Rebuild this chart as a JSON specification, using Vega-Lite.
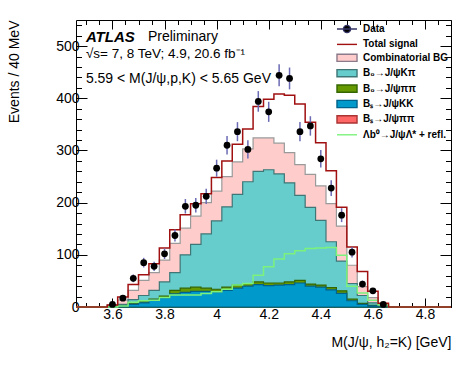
{
  "$schema": "https://vega.github.io/schema/vega-lite/v6.json",
  "width": 375,
  "height": 287,
  "autosize": {"type": "none"},
  "padding": {"left": 76, "top": 20, "right": 23, "bottom": 59},
  "background": "white",
  "config": {
    "font": "Liberation Sans",
    "view": {"stroke": "black", "strokeWidth": 1},
    "axis": {"grid": false, "domain": false, "tickColor": "black", "labelColor": "black", "titleColor": "black", "tickWidth": 1}
  },
  "datasets": {
    "hist": [
      {"x": 3.46, "tot": 0, "comb": 0, "kpi": 0, "pipi": 0, "kk": 0, "lb": 0},
      {"x": 3.50, "tot": 0, "comb": 0, "kpi": 0, "pipi": 0, "kk": 0, "lb": 0},
      {"x": 3.54, "tot": 0, "comb": 0, "kpi": 0, "pipi": 0, "kk": 0, "lb": 0},
      {"x": 3.58, "tot": 4, "comb": 4, "kpi": 2, "pipi": 0, "kk": 0, "lb": 0},
      {"x": 3.62, "tot": 19, "comb": 13, "kpi": 5, "pipi": 2.5, "kk": 2, "lb": 2},
      {"x": 3.66, "tot": 43, "comb": 32, "kpi": 14, "pipi": 6, "kk": 5, "lb": 9},
      {"x": 3.70, "tot": 62, "comb": 51, "kpi": 22, "pipi": 10, "kk": 8, "lb": 12},
      {"x": 3.74, "tot": 83, "comb": 66, "kpi": 32, "pipi": 15, "kk": 13, "lb": 13},
      {"x": 3.78, "tot": 113, "comb": 90, "kpi": 48, "pipi": 21, "kk": 18, "lb": 18},
      {"x": 3.82, "tot": 148, "comb": 122, "kpi": 66, "pipi": 32, "kk": 25, "lb": 23},
      {"x": 3.86, "tot": 177, "comb": 151, "kpi": 100, "pipi": 36, "kk": 28, "lb": 23},
      {"x": 3.90, "tot": 198, "comb": 174, "kpi": 120, "pipi": 38, "kk": 30, "lb": 23},
      {"x": 3.94, "tot": 217, "comb": 200, "kpi": 140, "pipi": 36, "kk": 30, "lb": 26},
      {"x": 3.98, "tot": 248, "comb": 222, "kpi": 165, "pipi": 34, "kk": 29, "lb": 29},
      {"x": 4.02, "tot": 280, "comb": 250, "kpi": 192, "pipi": 38, "kk": 32, "lb": 34},
      {"x": 4.06, "tot": 312, "comb": 278, "kpi": 216, "pipi": 42, "kk": 36, "lb": 42},
      {"x": 4.10, "tot": 341, "comb": 303, "kpi": 240, "pipi": 45, "kk": 40, "lb": 45},
      {"x": 4.14, "tot": 384, "comb": 324, "kpi": 260, "pipi": 48, "kk": 43, "lb": 61},
      {"x": 4.18, "tot": 398, "comb": 324, "kpi": 263, "pipi": 46, "kk": 41, "lb": 77},
      {"x": 4.22, "tot": 408, "comb": 314, "kpi": 255, "pipi": 46, "kk": 42, "lb": 92},
      {"x": 4.26, "tot": 406, "comb": 296, "kpi": 238, "pipi": 48, "kk": 43, "lb": 102},
      {"x": 4.30, "tot": 389, "comb": 273, "kpi": 214, "pipi": 51, "kk": 46, "lb": 108},
      {"x": 4.34, "tot": 354, "comb": 254, "kpi": 191, "pipi": 44, "kk": 40, "lb": 112},
      {"x": 4.38, "tot": 315, "comb": 232, "kpi": 166, "pipi": 42, "kk": 38, "lb": 113},
      {"x": 4.42, "tot": 261, "comb": 198, "kpi": 125, "pipi": 37, "kk": 33, "lb": 114},
      {"x": 4.46, "tot": 191, "comb": 155, "kpi": 88, "pipi": 31, "kk": 26, "lb": 99},
      {"x": 4.50, "tot": 115, "comb": 80, "kpi": 45, "pipi": 15, "kk": 12, "lb": 40},
      {"x": 4.54, "tot": 68, "comb": 39, "kpi": 22, "pipi": 7, "kk": 5, "lb": 27},
      {"x": 4.58, "tot": 30, "comb": 18, "kpi": 8, "pipi": 3, "kk": 2, "lb": 13},
      {"x": 4.62, "tot": 7, "comb": 4, "kpi": 2, "pipi": 0, "kk": 0, "lb": 4},
      {"x": 4.66, "tot": 0, "comb": 0, "kpi": 0, "pipi": 0, "kk": 0, "lb": 0},
      {"x": 4.70, "tot": 0, "comb": 0, "kpi": 0, "pipi": 0, "kk": 0, "lb": 0},
      {"x": 4.74, "tot": 0, "comb": 0, "kpi": 0, "pipi": 0, "kk": 0, "lb": 0},
      {"x": 4.78, "tot": 0, "comb": 0, "kpi": 0, "pipi": 0, "kk": 0, "lb": 0},
      {"x": 4.82, "tot": 0, "comb": 0, "kpi": 0, "pipi": 0, "kk": 0, "lb": 0},
      {"x": 4.86, "tot": 0, "comb": 0, "kpi": 0, "pipi": 0, "kk": 0, "lb": 0},
      {"x": 4.90, "tot": 0, "comb": 0, "kpi": 0, "pipi": 0, "kk": 0, "lb": 0}
    ],
    "pts": [
      {"m": 3.60, "n": 5, "lo": 2.8, "hi": 7.2},
      {"m": 3.64, "n": 17, "lo": 12.9, "hi": 21.1},
      {"m": 3.68, "n": 55, "lo": 47.6, "hi": 62.4},
      {"m": 3.72, "n": 85, "lo": 75.8, "hi": 94.2},
      {"m": 3.76, "n": 78, "lo": 69.2, "hi": 86.8},
      {"m": 3.80, "n": 102, "lo": 91.9, "hi": 112.1},
      {"m": 3.84, "n": 137, "lo": 125.3, "hi": 148.7},
      {"m": 3.88, "n": 193, "lo": 179.1, "hi": 206.9},
      {"m": 3.92, "n": 195, "lo": 181, "hi": 209},
      {"m": 3.96, "n": 212, "lo": 197.4, "hi": 226.6},
      {"m": 4.00, "n": 266, "lo": 249.7, "hi": 282.3},
      {"m": 4.04, "n": 310, "lo": 292.4, "hi": 327.6},
      {"m": 4.08, "n": 336, "lo": 317.7, "hi": 354.3},
      {"m": 4.12, "n": 302, "lo": 284.6, "hi": 319.4},
      {"m": 4.16, "n": 394, "lo": 374.2, "hi": 413.8},
      {"m": 4.20, "n": 374, "lo": 354.7, "hi": 393.3},
      {"m": 4.24, "n": 444, "lo": 422.9, "hi": 465.1},
      {"m": 4.28, "n": 438, "lo": 417.1, "hi": 458.9},
      {"m": 4.32, "n": 336, "lo": 317.7, "hi": 354.3},
      {"m": 4.36, "n": 347, "lo": 328.4, "hi": 365.6},
      {"m": 4.40, "n": 284, "lo": 267.1, "hi": 300.9},
      {"m": 4.44, "n": 228, "lo": 212.9, "hi": 243.1},
      {"m": 4.48, "n": 176, "lo": 162.7, "hi": 189.3},
      {"m": 4.52, "n": 105, "lo": 94.8, "hi": 115.2},
      {"m": 4.56, "n": 44, "lo": 37.4, "hi": 50.6},
      {"m": 4.60, "n": 31, "lo": 25.4, "hi": 36.6},
      {"m": 4.64, "n": 5, "lo": 2.8, "hi": 7.2}
    ],
    "leg": [
      {"name": "Data"},
      {"name": "Total signal"},
      {"name": "Combinatorial BG"},
      {"name": "B₀→J/ψKπ"},
      {"name": "B₀→J/ψππ"},
      {"name": "Bₛ→J/ψKK"},
      {"name": "Bₛ→J/ψππ"},
      {"name": "Λb⁰→J/ψΛ* + refl."}
    ]
  },
  "layer": [
    {
      "data": {"name": "hist"},
      "mark": {"type": "area", "interpolate": "step-after", "fill": "#ffcccc", "stroke": "#9a9a9a", "strokeWidth": 1.2},
      "encoding": {
        "x": {"field": "x", "type": "quantitative", "scale": {"domain": [3.46, 4.9], "nice": false, "zero": false},
          "axis": {"orient": "bottom",
            "values": [3.5, 3.55, 3.6, 3.65, 3.7, 3.75, 3.8, 3.85, 3.9, 3.95, 4, 4.05, 4.1, 4.15, 4.2, 4.25, 4.3, 4.35, 4.4, 4.45, 4.5, 4.55, 4.6, 4.65, 4.7, 4.75, 4.8, 4.85, 4.9],
            "labelExpr": "abs(datum.value*5-round(datum.value*5))<0.001 ? format(datum.value,'~g') : ''",
            "tickSize": {"condition": {"test": "abs(datum.value*5-round(datum.value*5))<0.001", "value": -9}, "value": -4.5},
            "labelFontSize": 14, "labelPadding": 9, "labelOverlap": false, "labelFlush": false,
            "title": "M(J/ψ, h₂=K) [GeV]", "titleAnchor": "end", "titleFontSize": 14, "titleFontWeight": "normal", "titlePadding": 10}},
        "y": {"field": "comb", "type": "quantitative", "scale": {"domain": [0, 550], "nice": false},
          "axis": {"orient": "left",
            "values": [0, 20, 40, 60, 80, 100, 120, 140, 160, 180, 200, 220, 240, 260, 280, 300, 320, 340, 360, 380, 400, 420, 440, 460, 480, 500, 520, 540],
            "labelExpr": "datum.value % 100 == 0 ? datum.label : ''",
            "tickSize": {"condition": {"test": "datum.value % 100 == 0", "value": -11}, "value": -5.5},
            "labelFontSize": 14, "labelPadding": 8, "labelOverlap": false, "labelFlush": false,
            "title": "Events / 40 MeV", "titleAnchor": "end", "titleFontSize": 14, "titleFontWeight": "normal", "titlePadding": 34}}
      }
    },
    {
      "data": {"name": "hist"},
      "mark": {"type": "area", "interpolate": "step-after", "fill": "#66cccc", "stroke": "#3f7676", "strokeWidth": 1.2},
      "encoding": {
        "x": {"field": "x", "type": "quantitative",
          "axis": {"orient": "top",
            "values": [3.5, 3.55, 3.6, 3.65, 3.7, 3.75, 3.8, 3.85, 3.9, 3.95, 4, 4.05, 4.1, 4.15, 4.2, 4.25, 4.3, 4.35, 4.4, 4.45, 4.5, 4.55, 4.6, 4.65, 4.7, 4.75, 4.8, 4.85, 4.9],
            "labels": false, "title": null,
            "tickSize": {"condition": {"test": "abs(datum.value*5-round(datum.value*5))<0.001", "value": -9}, "value": -4.5}}},
        "y": {"field": "kpi", "type": "quantitative",
          "axis": {"orient": "right",
            "values": [0, 20, 40, 60, 80, 100, 120, 140, 160, 180, 200, 220, 240, 260, 280, 300, 320, 340, 360, 380, 400, 420, 440, 460, 480, 500, 520, 540],
            "labels": false, "title": null,
            "tickSize": {"condition": {"test": "datum.value % 100 == 0", "value": -11}, "value": -5.5}}}
      }
    },
    {
      "data": {"name": "hist"},
      "mark": {"type": "area", "interpolate": "step-after", "fill": "#669900", "stroke": "#336600", "strokeWidth": 1.2},
      "encoding": {
        "x": {"field": "x", "type": "quantitative", "axis": null},
        "y": {"field": "pipi", "type": "quantitative", "axis": null}
      }
    },
    {
      "data": {"name": "hist"},
      "mark": {"type": "area", "interpolate": "step-after", "fill": "#0099cc", "stroke": "#00628a", "strokeWidth": 1.2},
      "encoding": {
        "x": {"field": "x", "type": "quantitative", "axis": null},
        "y": {"field": "kk", "type": "quantitative", "axis": null}
      }
    },
    {
      "data": {"name": "hist"},
      "mark": {"type": "line", "interpolate": "step-after", "stroke": "#7cf27c", "strokeWidth": 1.5},
      "encoding": {
        "x": {"field": "x", "type": "quantitative", "axis": null},
        "y": {"field": "lb", "type": "quantitative", "axis": null}
      }
    },
    {
      "data": {"name": "hist"},
      "mark": {"type": "line", "interpolate": "step-after", "stroke": "#a01010", "strokeWidth": 1.5},
      "encoding": {
        "x": {"field": "x", "type": "quantitative", "axis": null},
        "y": {"field": "tot", "type": "quantitative", "axis": null}
      }
    },
    {
      "data": {"name": "pts"},
      "mark": {"type": "rule", "stroke": "#6b6bb5", "strokeWidth": 1.5},
      "encoding": {
        "x": {"field": "m", "type": "quantitative", "axis": null},
        "y": {"field": "lo", "type": "quantitative", "axis": null},
        "y2": {"field": "hi"}
      }
    },
    {
      "data": {"name": "pts"},
      "mark": {"type": "point", "filled": true, "fill": "black", "stroke": null, "size": 46, "opacity": 1, "shape": "circle"},
      "encoding": {
        "x": {"field": "m", "type": "quantitative", "axis": null},
        "y": {"field": "n", "type": "quantitative", "axis": null}
      }
    },
    {
      "data": {"values": [{}]},
      "mark": {"type": "text", "text": "ATLAS", "align": "left", "baseline": "middle", "fontSize": 15, "fontWeight": "bold", "fontStyle": "italic", "color": "black"},
      "encoding": {"x": {"datum": 3.498, "type": "quantitative", "axis": null}, "y": {"datum": 518, "type": "quantitative", "axis": null}}
    },
    {
      "data": {"values": [{}]},
      "mark": {"type": "text", "text": "Preliminary", "align": "left", "baseline": "middle", "fontSize": 14, "color": "black"},
      "encoding": {"x": {"datum": 3.736, "type": "quantitative", "axis": null}, "y": {"datum": 518, "type": "quantitative", "axis": null}}
    },
    {
      "data": {"values": [{}]},
      "mark": {"type": "text", "text": "√s= 7, 8 TeV; 4.9, 20.6 fb⁻¹", "align": "left", "baseline": "middle", "fontSize": 13.5, "color": "black"},
      "encoding": {"x": {"datum": 3.498, "type": "quantitative", "axis": null}, "y": {"datum": 485, "type": "quantitative", "axis": null}}
    },
    {
      "data": {"values": [{}]},
      "mark": {"type": "text", "text": "5.59 < M(J/ψ,p,K) < 5.65 GeV", "align": "left", "baseline": "middle", "fontSize": 14, "color": "black"},
      "encoding": {"x": {"datum": 3.498, "type": "quantitative", "axis": null}, "y": {"datum": 437, "type": "quantitative", "axis": null}}
    },
    {
      "data": {"name": "leg"},
      "mark": {"type": "point", "filled": true, "opacity": 0},
      "encoding": {
        "shape": {"field": "name", "type": "nominal",
          "scale": {"domain": ["Data", "Total signal", "Combinatorial BG", "B₀→J/ψKπ", "B₀→J/ψππ", "Bₛ→J/ψKK", "Bₛ→J/ψππ", "Λb⁰→J/ψΛ* + refl."],
            "range": ["M-1.67,0H1.67M-0.6,0A0.6,0.6 0 1,0 0.6,0A0.6,0.6 0 1,0 -0.6,0", "M-1.67,0H1.67", "M-1.67,-0.6H1.67V0.6H-1.67Z", "M-1.67,-0.6H1.67V0.6H-1.67Z", "M-1.67,-0.6H1.67V0.6H-1.67Z", "M-1.67,-0.6H1.67V0.6H-1.67Z", "M-1.67,-0.6H1.67V0.6H-1.67Z", "M-1.67,0H1.67"]},
          "legend": {"title": null, "orient": "none", "legendX": 264, "legendY": 2, "padding": 0, "symbolSize": 144, "symbolOpacity": 1, "symbolStrokeWidth": 1.4, "labelFontSize": 10, "labelFontWeight": "bold", "labelColor": "black", "labelOffset": 9, "rowPadding": 1.4, "labelLimit": 200}},
        "fill": {"field": "name", "type": "nominal",
          "scale": {"domain": ["Data", "Total signal", "Combinatorial BG", "B₀→J/ψKπ", "B₀→J/ψππ", "Bₛ→J/ψKK", "Bₛ→J/ψππ", "Λb⁰→J/ψΛ* + refl."],
            "range": ["black", "transparent", "#ffcccc", "#66cccc", "#669900", "#0099cc", "#ff6666", "transparent"]},
          "legend": {"title": null, "orient": "none", "legendX": 264, "legendY": 2, "padding": 0, "symbolSize": 144, "symbolOpacity": 1, "symbolStrokeWidth": 1.4, "labelFontSize": 10, "labelFontWeight": "bold", "labelColor": "black", "labelOffset": 9, "rowPadding": 1.4, "labelLimit": 200}},
        "stroke": {"field": "name", "type": "nominal",
          "scale": {"domain": ["Data", "Total signal", "Combinatorial BG", "B₀→J/ψKπ", "B₀→J/ψππ", "Bₛ→J/ψKK", "Bₛ→J/ψππ", "Λb⁰→J/ψΛ* + refl."],
            "range": ["#333366", "#a01010", "#8a7a8a", "#3f7676", "#336600", "#00628a", "#aa3333", "#7cf27c"]},
          "legend": {"title": null, "orient": "none", "legendX": 264, "legendY": 2, "padding": 0, "symbolSize": 144, "symbolOpacity": 1, "symbolStrokeWidth": 1.4, "labelFontSize": 10, "labelFontWeight": "bold", "labelColor": "black", "labelOffset": 9, "rowPadding": 1.4, "labelLimit": 200}}
      }
    }
  ],
  "resolve": {"axis": {"x": "independent", "y": "independent"}}
}
